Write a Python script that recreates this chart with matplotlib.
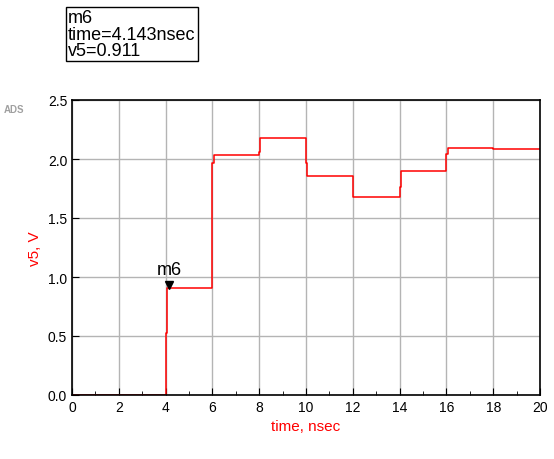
import matplotlib
matplotlib.use("Agg")
import matplotlib.pyplot as plt
from matplotlib.ticker import MultipleLocator

plt.rcParams['font.family'] = ['Liberation Sans', 'DejaVu Sans']

# step waveform: (time, value) breakpoints, value held until next time
t = [0, 4.0, 4.05, 6.0, 6.05, 8.0, 8.05, 10.0, 10.05, 12.0, 14.0, 14.05, 16.0, 16.05, 18.0, 20.0]
v5 = [0, 0.525, 0.911, 1.97, 2.03, 2.06, 2.18, 1.97, 1.856, 1.678, 1.76, 1.898, 2.04, 2.093, 2.085, 2.085]
xticks = [0, 2, 4, 6, 8, 10, 12, 14, 16, 18, 20]
yticks = [0.0, 0.5, 1.0, 1.5, 2.0, 2.5]
m_t, m_v = 4.143, 0.911

fig = plt.figure(figsize=(5.54, 4.60), dpi=100)
ax = fig.add_axes([72/554, 1-396/460, 468/554, 295/460])
ax.step(t, v5, where='post', color='#ff0000', lw=1.1)
ax.set_xlim(0, 20); ax.set_ylim(0, 2.5)
ax.set_xticks(xticks); ax.set_yticks(yticks)
ax.set_yticklabels([f"{y:.1f}" for y in yticks])
ax.xaxis.set_minor_locator(MultipleLocator(1))
ax.tick_params(which='both', direction='in', labelsize=10, top=False, right=False)
ax.tick_params(which='major', length=5); ax.tick_params(which='minor', length=3)
ax.grid(True, color='#b4b4b4', lw=1)
ax.set_axisbelow(True)
for s in ax.spines.values():
    s.set_linewidth(1.2)
ax.set_xlabel("time, nsec", color='#ff0000', fontsize=11)
ax.set_ylabel("v5, V", color='#ff0000', fontsize=11)
ax.plot([m_t], [m_v + 0.02], marker='v', color='black', ms=6, clip_on=False)
ax.text(m_t, m_v + 0.08, "m6", ha='center', va='bottom', fontsize=13)
fig.text(4/554, 1-110/460, "ADS", color='#a0a0a0', fontsize=7, va='center', fontweight='bold')
fig.text(68/554, 1-35/460, "m6\ntime=4.143nsec\nv5=0.911", fontsize=13, va='center', linespacing=0.95,
         bbox=dict(boxstyle='square,pad=0.12', fc='white', ec='black', lw=1))
fig.savefig("out.png", dpi=100)
